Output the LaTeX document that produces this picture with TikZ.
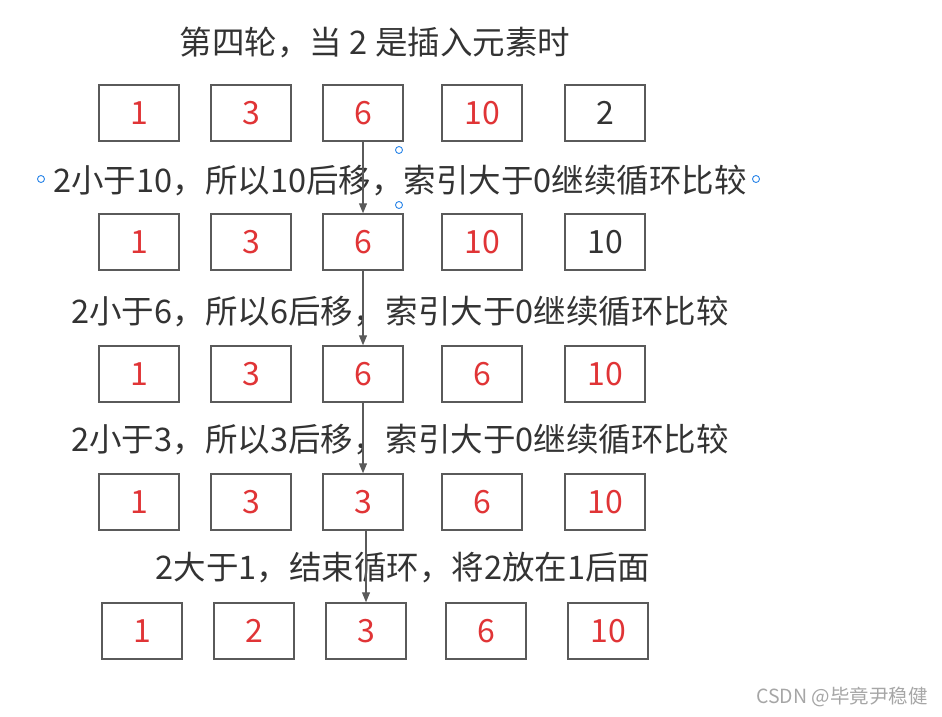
\documentclass[tikz,border=0pt]{standalone}
\usepackage{fontspec}
\setmainfont{Noto Sans CJK SC}
\usetikzlibrary{arrows.meta}
\definecolor{numred}{HTML}{E03436}
\definecolor{txtgray}{HTML}{333333}
\definecolor{boxgray}{HTML}{5A5A5A}
\definecolor{handleblue}{HTML}{2A85E8}
\tikzset{
  cell/.style={draw=boxgray, line width=1.5pt, minimum width=80pt, minimum height=56pt,
    inner sep=0pt, font=\fontsize{32}{36}\selectfont, text=numred},
  plain/.style={cell, text=txtgray},
  note/.style={font=\fontsize{32.5}{36}\selectfont, text=txtgray, inner sep=0pt},
  handle/.style={draw=handleblue, fill=white, line width=0.9pt, circle, inner sep=0pt, minimum size=7pt},
  move/.style={draw=boxgray, line width=1.2pt, -{Triangle[length=10pt,width=8pt]}}
}
\begin{document}
\begin{tikzpicture}[x=1pt,y=-1pt]
    \useasboundingbox (0,0) rectangle (942,717);
    % texts
    \node[note] (t0) at (375,43) {第四轮，当 2 是插入元素时};
    \node[note] (t1) at (400,181) {2小于10，所以10后移，索引大于0继续循环比较};
    \node[note] (t2) at (400,312) {2小于6，所以6后移，索引大于0继续循环比较};
    \node[note] (t3) at (400,440) {2小于3，所以3后移，索引大于0继续循环比较};
    \node[note] (t4) at (403,568) {2大于1，结束循环，将2放在1后面};
    % row 1
    \node[cell] (b11) at (139,113) {1};
    \node[cell] (b12) at (251,113) {3};
    \node[cell] (b13) at (363,113) {6};
    \node[cell] (b14) at (482,113) {10};
    \node[plain] (b15) at (605,113) {2};
    % row 2
    \node[cell] (b21) at (139,242) {1};
    \node[cell] (b22) at (251,242) {3};
    \node[cell] (b23) at (363,242) {6};
    \node[cell] (b24) at (482,242) {10};
    \node[plain] (b25) at (605,242) {10};
    % row 3
    \node[cell] (b31) at (139,374) {1};
    \node[cell] (b32) at (251,374) {3};
    \node[cell] (b33) at (363,374) {6};
    \node[cell] (b34) at (482,374) {6};
    \node[cell] (b35) at (605,374) {10};
    % row 4
    \node[cell] (b41) at (139,502) {1};
    \node[cell] (b42) at (251,502) {3};
    \node[cell] (b43) at (363,502) {3};
    \node[cell] (b44) at (482,502) {6};
    \node[cell] (b45) at (605,502) {10};
    % row 5
    \node[cell] (b51) at (142,631) {1};
    \node[cell] (b52) at (254,631) {2};
    \node[cell] (b53) at (366,631) {3};
    \node[cell] (b54) at (486,631) {6};
    \node[cell] (b55) at (608,631) {10};
    % arrows
    \draw[move] (b13.south) -- (b23.north);
    \draw[move] (b23.south) -- (b33.north);
    \draw[move] (b33.south) -- (b43.north);
    \draw[move] (b43.south -| b53.north) -- (b53.north);
    % selection handles
    \node[handle] (h1) at (41,179) {};
    \node[handle] (h2) at (399,150) {};
    \node[handle] (h3) at (399,205) {};
    \node[handle] (h4) at (756,179) {};
    \node[font=\fontsize{19.5}{22}\selectfont, text=gray!70, inner sep=0pt] (wm) at (842,697) {CSDN @毕竟尹稳健};
\end{tikzpicture}
\end{document}
